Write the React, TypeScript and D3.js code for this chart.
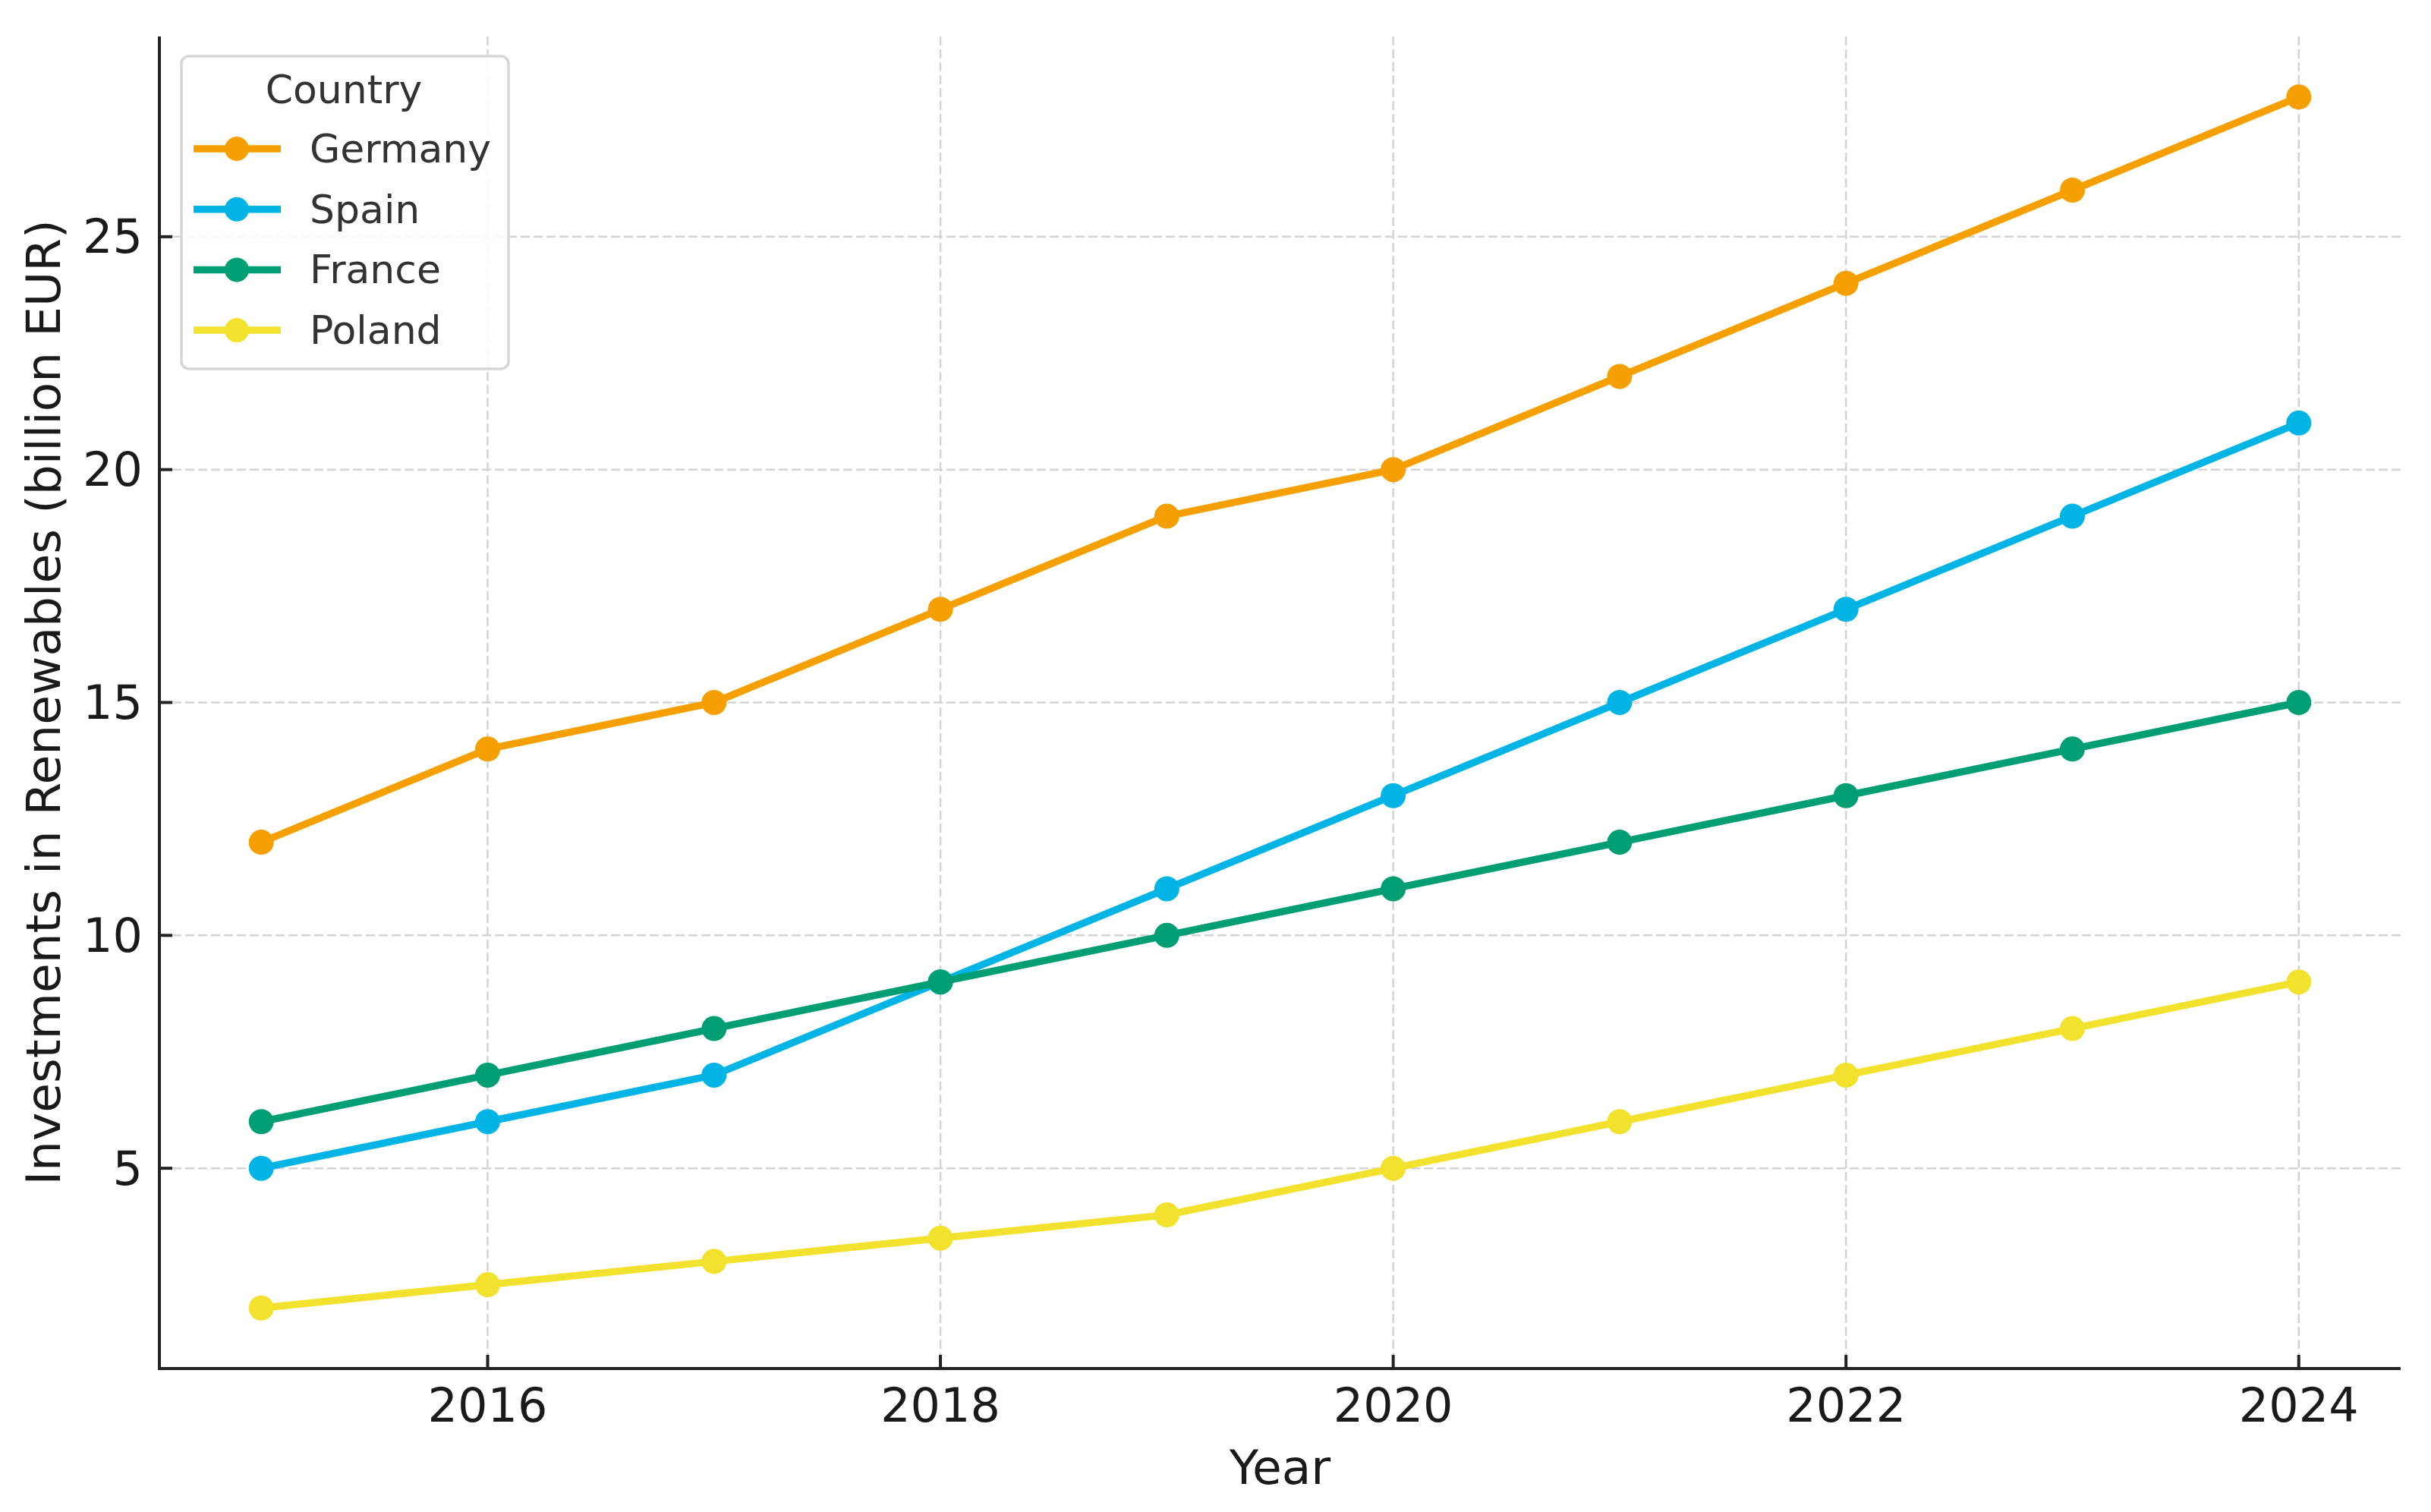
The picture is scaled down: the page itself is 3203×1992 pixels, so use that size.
import React from "react";
import * as d3 from "d3";

// values
const years = [2015, 2016, 2017, 2018, 2019, 2020, 2021, 2022, 2023, 2024];
const germany = [12, 14, 15, 17, 19, 20, 22, 24, 26, 28];
const spain = [5, 6, 7, 9, 11, 13, 15, 17, 19, 21];
const france = [6, 7, 8, 9, 10, 11, 12, 13, 14, 15];
const poland = [2, 2.5, 3, 3.5, 4, 5, 6, 7, 8, 9];

const countries = ["Germany", "Spain", "France", "Poland"];
const seriesValues = [germany, spain, france, poland];
const colors = ["#F5A000", "#00B4E6", "#009E73", "#F2E22E"];

const xTicks = [2016, 2018, 2020, 2022, 2024];
const yTicks = [5, 10, 15, 20, 25];

const W = 3203;
const H = 1992;
const margin = { top: 48, right: 40, bottom: 189, left: 210 };
const font = "'DejaVu Sans', sans-serif";

export default function App() {
    const x = d3.scaleLinear([2014.55, 2024.45], [margin.left, W - margin.right]);
    const y = d3.scaleLinear([0.7, 29.3], [H - margin.bottom, margin.top]);

    const line = d3.line<number>()
        .x((d, i) => x(years[i]))
        .y((d) => y(d));

    const plotBottom = H - margin.bottom;
    const plotRight = W - margin.right;

    // legend placement
    const lg = { x: 239, y: 74, w: 431, h: 412 };
    const rowY = (i: number) => 196 + i * 79.7;

    return <svg width={W} height={H} style={{ position: "absolute", left: 0, top: 0, background: "#fff" }}>
        <rect x={0} y={0} width={W} height={H} fill="#fff" />
        {/* Grid */}
        <g>
            {xTicks.map((t) => (
                <line key={t} x1={x(t)} x2={x(t)} y1={margin.top} y2={plotBottom}
                    stroke="#d4d4d4" strokeWidth={2.5} strokeDasharray="12,5" />
            ))}
            {yTicks.map((t) => (
                <line key={t} x1={margin.left} x2={plotRight} y1={y(t)} y2={y(t)}
                    stroke="#d4d4d4" strokeWidth={2.5} strokeDasharray="12,5" />
            ))}
        </g>

        {/* Series */}
        {seriesValues.map((vals, si) => (
            <g key={countries[si]}>
                <path d={line(vals)!} fill="none" stroke={colors[si]} strokeWidth={9.5}
                    strokeLinejoin="round" strokeLinecap="round" />
                {vals.map((v, i) => (
                    <circle key={i} cx={x(years[i])} cy={y(v)} r={16.5} fill={colors[si]} />
                ))}
            </g>
        ))}

        {/* Spines */}
        <line x1={margin.left} x2={margin.left} y1={margin.top} y2={plotBottom + 2} stroke="#222" strokeWidth={4} />
        <line x1={margin.left - 2} x2={plotRight} y1={plotBottom} y2={plotBottom} stroke="#222" strokeWidth={4} />

        {/* X ticks */}
        {xTicks.map((t) => (
            <g key={t}>
                <line x1={x(t)} x2={x(t)} y1={plotBottom} y2={plotBottom - 18} stroke="#222" strokeWidth={4} />
                <text x={x(t)} y={plotBottom + 70} textAnchor="middle" fontFamily={font} fontSize={62} fill="#1a1a1a">{t}</text>
            </g>
        ))}
        {/* Y ticks */}
        {yTicks.map((t) => (
            <g key={t}>
                <line x1={margin.left} x2={margin.left + 17} y1={y(t)} y2={y(t)} stroke="#222" strokeWidth={4} />
                <text x={margin.left - 22} y={y(t)} textAnchor="end" dominantBaseline="central" fontFamily={font} fontSize={62} fill="#1a1a1a">{t}</text>
            </g>
        ))}

        {/* Axis titles */}
        <text x={(margin.left + plotRight) / 2} y={1955} textAnchor="middle" fontFamily={font} fontSize={63} fill="#1a1a1a">Year</text>
        <text transform={`translate(79, ${(margin.top + plotBottom) / 2}) rotate(-90)`} textAnchor="middle"
            fontFamily={font} fontSize={63} fill="#1a1a1a">Investments in Renewables (billion EUR)</text>

        {/* Legend */}
        <g>
            <rect x={lg.x} y={lg.y} width={lg.w} height={lg.h} rx={10} ry={10}
                fill="#fff" fillOpacity={0.85} stroke="#d6d6d6" strokeWidth={3.5} />
            <text x={453} y={136} textAnchor="middle" fontFamily={font} fontSize={52} fill="#333">Country</text>
            {countries.map((c, i) => (
                <g key={c}>
                    <line x1={255} x2={370} y1={rowY(i)} y2={rowY(i)} stroke={colors[i]} strokeWidth={9.5} />
                    <circle cx={312} cy={rowY(i)} r={16} fill={colors[i]} />
                    <text x={408} y={rowY(i)} dominantBaseline="central" fontFamily={font} fontSize={52} fill="#333">{c}</text>
                </g>
            ))}
        </g>
    </svg>;
}
